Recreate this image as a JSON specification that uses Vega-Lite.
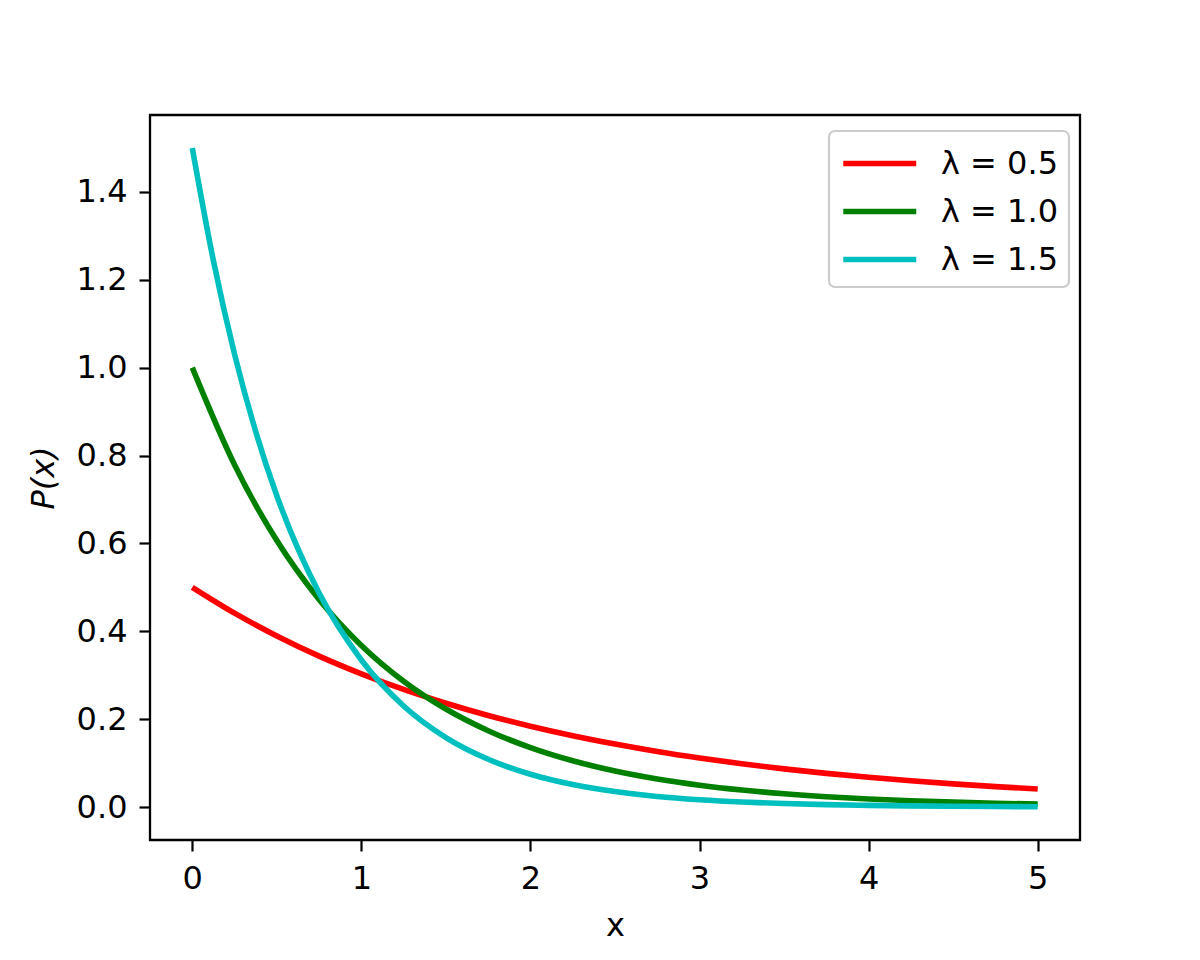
{
  "$schema": "https://vega.github.io/schema/vega-lite/v6.json",
  "width": 930,
  "height": 725,
  "autosize": "none",
  "padding": {"left": 150, "top": 115, "right": 120, "bottom": 120},
  "background": "white",
  "config": {
    "font": "DejaVu Sans",
    "view": {"stroke": "black", "strokeWidth": 2.3},
    "axis": {
      "grid": false,
      "domain": false,
      "tickColor": "black",
      "tickSize": 11,
      "tickWidth": 2.2,
      "labelFont": "DejaVu Sans",
      "labelFontSize": 32,
      "labelColor": "black",
      "labelPadding": 12,
      "titleFont": "DejaVu Sans",
      "titleFontSize": 32,
      "titleFontWeight": "normal",
      "titleColor": "black"
    },
    "legend": {
      "strokeColor": "#cccccc",
      "strokeWidth": 2.2,
      "fillColor": "white",
      "cornerRadius": 6,
      "padding": 11
    }
  },
  "data": {
    "values": [
      {"x": 0, "p": 0.5, "s": "λ = 0.5"},
      {"x": 0.25, "p": 0.4412, "s": "λ = 0.5"},
      {"x": 0.5, "p": 0.3894, "s": "λ = 0.5"},
      {"x": 0.75, "p": 0.3436, "s": "λ = 0.5"},
      {"x": 1, "p": 0.3033, "s": "λ = 0.5"},
      {"x": 1.25, "p": 0.2676, "s": "λ = 0.5"},
      {"x": 1.5, "p": 0.2362, "s": "λ = 0.5"},
      {"x": 1.75, "p": 0.2084, "s": "λ = 0.5"},
      {"x": 2, "p": 0.1839, "s": "λ = 0.5"},
      {"x": 2.25, "p": 0.1623, "s": "λ = 0.5"},
      {"x": 2.5, "p": 0.1433, "s": "λ = 0.5"},
      {"x": 2.75, "p": 0.1264, "s": "λ = 0.5"},
      {"x": 3, "p": 0.1116, "s": "λ = 0.5"},
      {"x": 3.25, "p": 0.0984, "s": "λ = 0.5"},
      {"x": 3.5, "p": 0.0869, "s": "λ = 0.5"},
      {"x": 3.75, "p": 0.0767, "s": "λ = 0.5"},
      {"x": 4, "p": 0.0677, "s": "λ = 0.5"},
      {"x": 4.25, "p": 0.0597, "s": "λ = 0.5"},
      {"x": 4.5, "p": 0.0527, "s": "λ = 0.5"},
      {"x": 4.75, "p": 0.0465, "s": "λ = 0.5"},
      {"x": 5, "p": 0.041, "s": "λ = 0.5"},
      {"x": 0, "p": 1.0, "s": "λ = 1.0"},
      {"x": 0.25, "p": 0.7788, "s": "λ = 1.0"},
      {"x": 0.5, "p": 0.6065, "s": "λ = 1.0"},
      {"x": 0.75, "p": 0.4724, "s": "λ = 1.0"},
      {"x": 1, "p": 0.3679, "s": "λ = 1.0"},
      {"x": 1.25, "p": 0.2865, "s": "λ = 1.0"},
      {"x": 1.5, "p": 0.2231, "s": "λ = 1.0"},
      {"x": 1.75, "p": 0.1738, "s": "λ = 1.0"},
      {"x": 2, "p": 0.1353, "s": "λ = 1.0"},
      {"x": 2.25, "p": 0.1054, "s": "λ = 1.0"},
      {"x": 2.5, "p": 0.0821, "s": "λ = 1.0"},
      {"x": 2.75, "p": 0.0639, "s": "λ = 1.0"},
      {"x": 3, "p": 0.0498, "s": "λ = 1.0"},
      {"x": 3.25, "p": 0.0388, "s": "λ = 1.0"},
      {"x": 3.5, "p": 0.0302, "s": "λ = 1.0"},
      {"x": 3.75, "p": 0.0235, "s": "λ = 1.0"},
      {"x": 4, "p": 0.0183, "s": "λ = 1.0"},
      {"x": 4.25, "p": 0.0143, "s": "λ = 1.0"},
      {"x": 4.5, "p": 0.0111, "s": "λ = 1.0"},
      {"x": 4.75, "p": 0.0087, "s": "λ = 1.0"},
      {"x": 5, "p": 0.0067, "s": "λ = 1.0"},
      {"x": 0, "p": 1.5, "s": "λ = 1.5"},
      {"x": 0.125, "p": 1.2435, "s": "λ = 1.5"},
      {"x": 0.25, "p": 1.0309, "s": "λ = 1.5"},
      {"x": 0.375, "p": 0.8547, "s": "λ = 1.5"},
      {"x": 0.5, "p": 0.7085, "s": "λ = 1.5"},
      {"x": 0.75, "p": 0.487, "s": "λ = 1.5"},
      {"x": 1, "p": 0.3347, "s": "λ = 1.5"},
      {"x": 1.25, "p": 0.23, "s": "λ = 1.5"},
      {"x": 1.5, "p": 0.1581, "s": "λ = 1.5"},
      {"x": 1.75, "p": 0.1087, "s": "λ = 1.5"},
      {"x": 2, "p": 0.0747, "s": "λ = 1.5"},
      {"x": 2.25, "p": 0.0513, "s": "λ = 1.5"},
      {"x": 2.5, "p": 0.0353, "s": "λ = 1.5"},
      {"x": 2.75, "p": 0.0242, "s": "λ = 1.5"},
      {"x": 3, "p": 0.0167, "s": "λ = 1.5"},
      {"x": 3.25, "p": 0.0114, "s": "λ = 1.5"},
      {"x": 3.5, "p": 0.0079, "s": "λ = 1.5"},
      {"x": 3.75, "p": 0.0054, "s": "λ = 1.5"},
      {"x": 4, "p": 0.0037, "s": "λ = 1.5"},
      {"x": 4.25, "p": 0.0026, "s": "λ = 1.5"},
      {"x": 4.5, "p": 0.0018, "s": "λ = 1.5"},
      {"x": 4.75, "p": 0.0012, "s": "λ = 1.5"},
      {"x": 5, "p": 0.0008, "s": "λ = 1.5"}
    ]
  },
  "mark": {"type": "line", "interpolate": "monotone", "strokeWidth": 5.6, "clip": true},
  "encoding": {
    "x": {
      "field": "x",
      "type": "quantitative",
      "scale": {"domain": [-0.25, 5.25], "nice": false, "zero": false},
      "axis": {"values": [0, 1, 2, 3, 4, 5], "format": "d", "title": "x", "titlePadding": 16}
    },
    "y": {
      "field": "p",
      "type": "quantitative",
      "scale": {"domain": [-0.075, 1.575], "nice": false, "zero": false},
      "axis": {
        "values": [0, 0.2, 0.4, 0.6, 0.8, 1.0, 1.2, 1.4],
        "format": ".1f",
        "title": "P(x)",
        "titleFontStyle": "italic",
        "titlePadding": 16
      }
    },
    "color": {
      "field": "s",
      "type": "nominal",
      "scale": {"domain": ["λ = 0.5", "λ = 1.0", "λ = 1.5"], "range": ["#ff0000", "#008000", "#00bfbf"]},
      "legend": {
        "title": null,
        "orient": "none",
        "legendX": 679,
        "legendY": 16,
        "symbolType": "M-1,0H3",
        "symbolSize": 1332,
        "symbolStrokeWidth": 5.6,
        "labelFontSize": 32,
        "labelFont": "DejaVu Sans",
        "labelColor": "black",
        "labelOffset": 58,
        "rowPadding": 10
      }
    }
  }
}
